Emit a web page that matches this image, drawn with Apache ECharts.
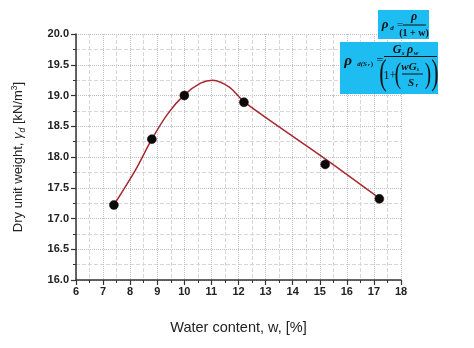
<!DOCTYPE html>
<html>
<head>
<meta charset="utf-8">
<script src="https://cdn.jsdelivr.net/npm/echarts@6/dist/echarts.min.js"></script>
<style>
  html, body { margin: 0; padding: 0; background: #ffffff; }
  #chart { width: 474px; height: 348px; }
</style>
</head>
<body>
<div id="chart"></div>
<script>
// Measured compaction points: water content (%) and dry unit weight (kN/m3)
const waterContent = [7.4, 8.8, 10.0, 12.2, 15.2, 17.2];
const dryUnitWeight = [17.22, 18.29, 19.0, 18.89, 17.88, 17.32];

// Compaction curve drawn through the measured points
const curveW = [7.4, 8.2, 8.8, 9.4, 10.0, 10.6, 11.05, 11.65, 12.2, 13.5, 15.2, 17.2];
const curveGamma = [17.22, 17.79, 18.29, 18.71, 19.01, 19.20, 19.25, 19.14, 18.90, 18.49, 17.97, 17.33];

// Axis ranges and steps
const xRange = [6, 18];
const xStep = 1;
const yRange = [16.0, 20.0];
const yStep = 0.5;

const pairs = (xs, ys) => xs.map((x, i) => [x, ys[i]]);

const chart = echarts.init(document.getElementById('chart'), null, { renderer: 'canvas' });

const labelFont = { fontFamily: 'Liberation Sans, Arial', fontWeight: 'bold', fontSize: 11, color: '#222' };
const serif = 'Liberation Serif, Times New Roman, serif';
const boxBlue = '#1dbdf2';

function t(x, y, text, size, opts) {
  return Object.assign({
    type: 'text', x: x, y: y, z: 20,
    style: Object.assign({
      text: text, fontFamily: serif, fontSize: size, fontWeight: 'bold', fontStyle: 'italic',
      fill: '#111', align: 'center', verticalAlign: 'middle'
    }, (opts && opts.style) || {})
  }, (opts && opts.el) || {});
}
function hl(x1, x2, y) {
  return { type: 'line', z: 20, shape: { x1: x1, y1: y, x2: x2, y2: y }, style: { stroke: '#111', lineWidth: 1 } };
}
const plain = { fontStyle: 'normal', fontWeight: 'normal' };
const tall = { scaleY: 1.6, originX: 0, originY: 0 };

const graphics = [
  // dry density from bulk density
  { type: 'rect', z: 10, shape: { x: 378, y: 10, width: 51, height: 29 }, style: { fill: boxBlue } },
  t(385, 25, 'ρ', 13),
  t(392, 28, 'd', 7),
  t(400, 25, '=', 11, { style: plain }),
  t(414, 17, 'ρ', 12),
  hl(403, 426, 25),
  t(414, 33, '(1 + w)', 10, { style: { fontStyle: 'normal' } }),

  // dry density from saturation
  { type: 'rect', z: 10, shape: { x: 340, y: 42, width: 98, height: 52 }, style: { fill: boxBlue } },
  t(348, 61, 'ρ', 15),
  t(362, 64, 'd(S', 7),
  t(369, 65, 'r', 5),
  t(372, 64, ')', 7, { style: { fontStyle: 'normal' } }),
  t(380, 61, '=', 12, { style: plain }),
  t(397, 50, 'G', 12),
  t(403, 53, 's', 7),
  t(410, 50, 'ρ', 12),
  t(416, 53, 'w', 7),
  hl(384, 437, 56.5),
  t(383, 75, '(', 22, { style: plain, el: tall }),
  t(390, 76, '1+', 12, { style: plain }),
  t(398, 75, '(', 19, { style: plain, el: tall }),
  t(409, 67, 'wG', 11),
  t(418, 69, 's', 6),
  hl(402, 423, 74),
  t(411, 83, 'S', 11),
  t(417, 85, 'r', 6),
  t(428, 75, ')', 19, { style: plain, el: tall }),
  t(435, 75, ')', 22, { style: plain, el: tall })
];

const option = {
  backgroundColor: '#ffffff',
  animation: false,
  grid: { left: 68, right: 73, top: 34, bottom: 68, containLabel: false },
  graphic: graphics,
  xAxis: {
    type: 'value',
    min: xRange[0], max: xRange[1], interval: xStep,
    name: 'Water content, w, [%]',
    nameLocation: 'middle', nameGap: 40,
    nameTextStyle: { fontFamily: 'Liberation Sans, Arial', fontSize: 14.5, color: '#222' },
    axisLine: { show: true, onZero: false, lineStyle: { color: '#333', width: 1.5 } },
    axisTick: { show: true, length: 5, lineStyle: { color: '#333', width: 1.2 } },
    minorTick: { show: true, splitNumber: 2, length: 3, lineStyle: { color: '#333', width: 1 } },
    axisLabel: Object.assign({ margin: 6, formatter: v => String(v) }, labelFont),
    splitLine: { show: true, lineStyle: { color: '#b9bccb', type: 'dotted', width: 1 } },
    minorSplitLine: { show: true, lineStyle: { color: '#d7d7d7', type: 'dashed', width: 1 } }
  },
  yAxis: {
    type: 'value',
    min: yRange[0], max: yRange[1], interval: yStep,
    name: '{a|Dry unit weight, }{g|γ}{s|d}{a| [kN/m}{p|3}{a|]}',
    nameLocation: 'middle', nameGap: 48, nameRotate: 90,
    nameTextStyle: {
      color: '#222',
      rich: {
        a: { fontFamily: 'Liberation Sans, Arial', fontSize: 13, color: '#222', lineHeight: 20, verticalAlign: 'middle' },
        g: { fontFamily: 'Liberation Sans, Arial', fontSize: 13, fontStyle: 'italic', color: '#222', lineHeight: 20, verticalAlign: 'middle' },
        s: { fontFamily: 'Liberation Sans, Arial', fontSize: 8.5, fontStyle: 'italic', color: '#222', lineHeight: 20, verticalAlign: 'bottom', padding: [0, 0, 1, 0] },
        p: { fontFamily: 'Liberation Sans, Arial', fontSize: 8.5, color: '#222', lineHeight: 20, verticalAlign: 'top', padding: [2, 0, 0, 0] }
      }
    },
    axisLine: { show: true, onZero: false, lineStyle: { color: '#333', width: 1.5 } },
    axisTick: { show: true, length: 5, lineStyle: { color: '#333', width: 1.2 } },
    minorTick: { show: true, splitNumber: 2, length: 3, lineStyle: { color: '#333', width: 1 } },
    axisLabel: Object.assign({ margin: 7, formatter: v => v.toFixed(1) }, labelFont),
    splitLine: { show: true, lineStyle: { color: '#b9bccb', type: 'dotted', width: 1 } },
    minorSplitLine: { show: true, lineStyle: { color: '#d7d7d7', type: 'dashed', width: 1 } }
  },
  series: [
    {
      name: 'Compaction curve',
      type: 'line',
      data: pairs(curveW, curveGamma),
      smooth: 0.3,
      showSymbol: false,
      lineStyle: { color: '#a8282e', width: 1.5 },
      z: 3
    },
    {
      name: 'Test points',
      type: 'scatter',
      data: pairs(waterContent, dryUnitWeight),
      symbol: 'circle',
      symbolSize: 9,
      itemStyle: { color: '#0a0a0a', opacity: 1, borderColor: '#2a0606', borderWidth: 0.5 },
      z: 4
    }
  ]
};

chart.setOption(option);
</script>
</body>
</html>
